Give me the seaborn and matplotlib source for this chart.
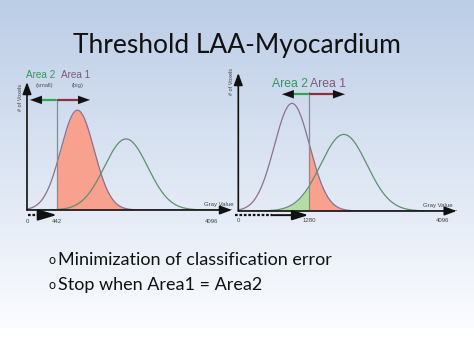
import numpy as np
import pandas as pd
import matplotlib
matplotlib.use("Agg")
import matplotlib.pyplot as plt
import seaborn as sns

sns.set_theme(style="white")
plt.rcParams['font.family'] = ['Liberation Sans', 'DejaVu Sans']

# ---- data (schematic units) ----
title = "Threshold LAA-Myocardium"
bullets = ["Minimization of classification error", "Stop when Area1 = Area2"]
# two class distributions: LAA (purple) and myocardium (green)
dist_names = ["LAA", "Myocardium"]
dist_means = [24.6, 48.3]
dist_sigmas = [8.1, 10.6]
dist_heights = [78.0, 55.5]
# thresholds per panel (schematic position) and their gray-value labels
thresholds = [14.6, 32.4]
threshold_labels = ["442", "1280"]
max_tick_pos = [90.2, 93.7]
max_tick_label = "4096"

PURPLE = "#8c7090"
GREEN = "#5f8f6e"
SALMON = "#f8a18e"
LIGHTGREEN = "#b4dca4"
AREA2_C = "#2f9a55"
AREA1_C = "#7d5a78"

W, H = 474, 355
fig = plt.figure(figsize=(W / 100, H / 100), dpi=100)

# background gradient
bg = fig.add_axes([0, 0, 1, 1], zorder=-10)
rows = np.linspace(0, 1, 355)
top = np.array([188, 205, 230]) / 255.0
col = np.ones((355, 3))
for i, r in enumerate(rows):
    t = min(r / 0.93, 1.0)
    c = top * (1 - t) + np.array([0.985, 0.99, 1.0]) * t
    if r > 0.925:
        c = np.array([1.0, 1.0, 1.0])
    col[i] = c
bg.imshow(col[:, None, :], aspect="auto", extent=[0, 1, 0, 1])
bg.set_axis_off()

x = np.linspace(0, 100, 801)
curves = pd.concat([
    pd.DataFrame({"x": x,
                  "y": h * np.exp(-0.5 * ((x - m) / s) ** 2),
                  "dist": n})
    for n, m, s, h in zip(dist_names, dist_means, dist_sigmas, dist_heights)
])

def px2fig(l, t, r, b):
    return [l / W, 1 - b / H, (r - l) / W, (b - t) / H]

axes_boxes = [px2fig(27, 82, 232, 210), px2fig(238.3, 73, 456.7, 211)]

HEAD = dict(shrinkA=0, shrinkB=0)

for k, box in enumerate(axes_boxes):
    ax = fig.add_axes(box)
    ax.set_facecolor("none")
    ax.set_xlim(0, 100)
    ax.set_ylim(0, 100)
    for s in ax.spines.values():
        s.set_visible(False)
    ax.set_xticks([])
    ax.set_yticks([])
    thr = thresholds[k]
    c1 = curves[curves["dist"] == "LAA"]
    c2 = curves[curves["dist"] == "Myocardium"]
    # fills
    m1 = c1["x"].values >= thr
    ax.fill_between(c1["x"].values[m1], 0, c1["y"].values[m1], color=SALMON, lw=0, zorder=1)
    if k == 1:
        m2 = c2["x"].values <= thr
        ax.fill_between(c2["x"].values[m2], 0, c2["y"].values[m2], color=LIGHTGREEN, lw=0, zorder=1)
    sns.lineplot(data=curves, x="x", y="y", hue="dist", palette=[PURPLE, GREEN],
                 legend=False, ax=ax, lw=0.9, zorder=3)
    ax.set_xlabel("")
    ax.set_ylabel("")
    # axes arrows
    ax.annotate("", xy=(1.0, 0), xytext=(0, 0), xycoords="axes fraction",
                arrowprops=dict(arrowstyle="-|>,head_length=0.6,head_width=0.22", color="#111", lw=1.2, **HEAD),
                zorder=5)
    ax.annotate("", xy=(0, 1.0), xytext=(0, 0), xycoords="axes fraction",
                arrowprops=dict(arrowstyle="-|>,head_length=0.6,head_width=0.22", color="#111", lw=1.2, **HEAD),
                zorder=5)
    # threshold line
    ax.plot([thr, thr], [0, 86], color="#8a8a8a", lw=0.9, zorder=4)
    # area arrows
    ay = 86 if k == 0 else 84.6
    left_end = 1.5 if k == 0 else 20.0
    right_end = 30.7 if k == 0 else 48.8
    ax.plot([left_end + 3, thr - 0.5], [ay, ay], color="#2fa84f", lw=1.6, clip_on=False, zorder=5)
    ax.plot([thr + 0.5, right_end - 3], [ay, ay], color="#8f2f3a", lw=1.6, clip_on=False, zorder=5)
    ax.annotate("", xy=(left_end, ay), xytext=(left_end + 4.5, ay),
                arrowprops=dict(arrowstyle="-|>,head_length=0.7,head_width=0.25", color="#111", lw=0.1, **HEAD),
                annotation_clip=False, zorder=6)
    ax.annotate("", xy=(right_end, ay), xytext=(right_end - 4.5, ay),
                arrowprops=dict(arrowstyle="-|>,head_length=0.7,head_width=0.25", color="#111", lw=0.1, **HEAD),
                annotation_clip=False, zorder=6)
    # area labels
    if k == 0:
        ax.text(6.8, 105.5, "Area 2", color=AREA2_C, fontsize=7.2, ha="center", va="center", clip_on=False)
        ax.text(23.6, 105.5, "Area 1", color=AREA1_C, fontsize=7.2, ha="center", va="center", clip_on=False)
        ax.text(8.3, 97, "(small)", color="#555", fontsize=4.2, ha="center", va="center", clip_on=False)
        ax.text(24.6, 97, "(big)", color="#555", fontsize=4.2, ha="center", va="center", clip_on=False)
    else:
        ax.text(23.9, 92, "Area 2", color=AREA2_C, fontsize=8.8, ha="center", va="center", clip_on=False)
        ax.text(41.1, 92, "Area 1", color=AREA1_C, fontsize=8.8, ha="center", va="center", clip_on=False)
    # bottom dotted arrow
    by = -3.9 if k == 0 else -3.0
    if k == 0:
        ax.plot([0.5, 7.8], [by, by], color="#111", lw=1.6, ls=(0, (1.2, 0.8)), clip_on=False)
        ax.annotate("", xy=(thr, by), xytext=(7.6, by),
                    arrowprops=dict(arrowstyle="-|>,head_length=0.95,head_width=0.28", color="#111", lw=1.4, **HEAD),
                    annotation_clip=False)
    else:
        ax.plot([-1.5, 15.3], [by, by], color="#111", lw=1.6, ls=(0, (1.2, 0.8)), clip_on=False)
        ax.annotate("", xy=(thr - 0.3, by), xytext=(15.3, by),
                    arrowprops=dict(arrowstyle="-|>,head_length=0.8,head_width=0.25", color="#111", lw=1.4, **HEAD),
                    annotation_clip=False)
    # tick labels
    ty = -8.6 if k == 0 else -7.2
    for pos, lab in [(0, "0"), (thr, threshold_labels[k]), (max_tick_pos[k], max_tick_label)]:
        ax.text(pos, ty, lab, fontsize=4.3, color="#444", ha="center", va="center", clip_on=False)
    ax.text(93.5 if k == 0 else 91.2, 4.0, "Gray Value", fontsize=4.3, color="#444",
            ha="center", va="center", clip_on=False)
    if k == 0:
        ax.text(-0.034, 0.88, "# of Voxels", rotation=90, fontsize=4.0, color="#444",
                ha="center", va="center", transform=ax.transAxes, clip_on=False)
    else:
        ax.text(-0.029, 0.935, "# of Voxels", rotation=90, fontsize=4.0, color="#444",
                ha="center", va="center", transform=ax.transAxes, clip_on=False)

fig.text(237 / W, 1 - 45 / H, title, fontsize=19, family="Lato", ha="center", va="center", color="#111")
for i, b in enumerate(bullets):
    yy = 1 - (260 + 25 * i) / H
    fig.text(52 / W, yy, "o", fontsize=9, family="Lato", ha="center", va="center", color="#111")
    fig.text(58 / W, yy, b, fontsize=13, family="Lato", ha="left", va="center", color="#111")

fig.savefig("out.png", dpi=100)
